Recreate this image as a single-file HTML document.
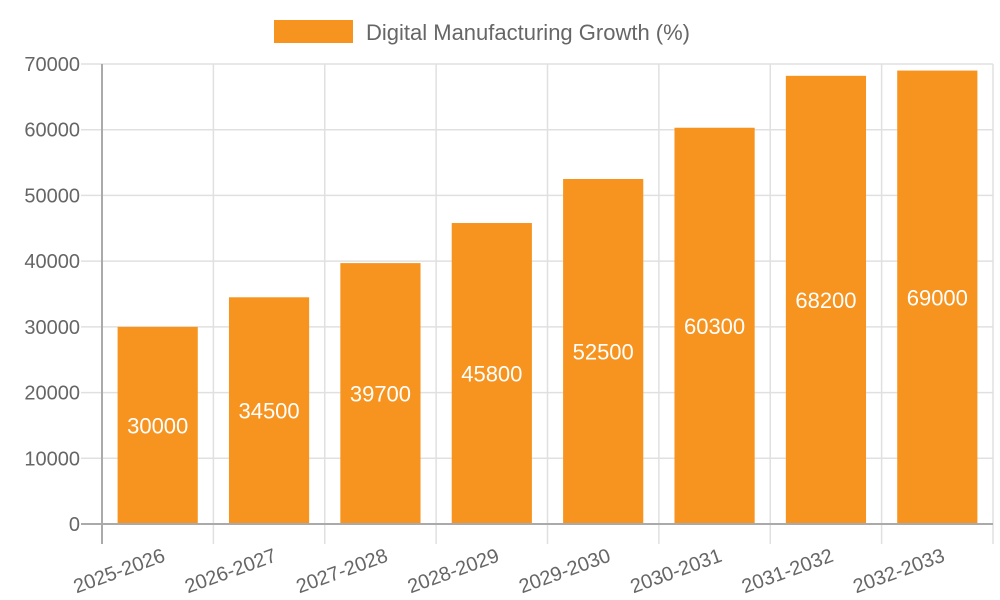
<!DOCTYPE html>
<html><head><meta charset="utf-8"><style>
body{margin:0;background:#fff;}
svg{display:block;font-family:"Liberation Sans",sans-serif;}
</style></head><body>
<svg id="chart" width="1000" height="600">
<g id="grid"></g>
<g id="bars"></g>
<g id="axes"></g>
<g>
<rect x="274" y="20" width="79" height="23" fill="#f7941f"/>
<text x="366" y="40" font-size="22" fill="#666">Digital Manufacturing Growth (%)</text>
</g>
</svg>
<script>
const categories=["2025-2026","2026-2027","2027-2028","2028-2029","2029-2030","2030-2031","2031-2032","2032-2033"];
const values=[30000,34500,39700,45800,52500,60300,68200,69000];
const yTicks=[0,10000,20000,30000,40000,50000,60000,70000];
const L=102,R=993,T=64,B=524,YMAX=70000;
const NS="http://www.w3.org/2000/svg";
const bw=(R-L)/categories.length;
function y(v){return B-(v/YMAX)*(B-T);}
function x(i){return L+bw*i;}
function mk(tag,attrs,parent,txt){const e=document.createElementNS(NS,tag);for(const k in attrs)e.setAttribute(k,attrs[k]);if(txt!==undefined)e.textContent=txt;parent.appendChild(e);return e;}
const grid=document.getElementById('grid'),bars=document.getElementById('bars'),axes=document.getElementById('axes');
yTicks.forEach(t=>{
  const g=mk('line',{x1:81,x2:R,y1:y(t),y2:y(t),stroke:'#e0e0e0','stroke-width':1.5},grid);
  
  
  const lb=mk('text',{x:80,y:y(t)+7,'text-anchor':'end','font-size':20,fill:'#666'},axes,String(t));
  
  
});
for(let i=0;i<=categories.length;i++){
  const g=mk('line',{x1:x(i),x2:x(i),y1:T,y2:544,stroke:'#e0e0e0','stroke-width':1.5},grid);
  
  
}
categories.forEach((c,i)=>{
  const cx=x(i)+bw/2,w=bw*0.72;
  const r=mk('rect',{x:cx-w/2,y:y(values[i]),width:w,height:B-y(values[i]),fill:'#f7941f'},bars);
  
  
  const v=mk('text',{x:cx,y:(y(values[i])+B)/2+8,'text-anchor':'middle','font-size':22,fill:'#fff'},bars,String(values[i]));
  
  
  const xl=mk('text',{x:cx+4,y:548,'text-anchor':'end','font-size':20,fill:'#666',transform:`rotate(-20 ${cx+4} 548)`,'dominant-baseline':'hanging'},axes,c);
  
  
});
const ya=mk('line',{x1:L,x2:L,y1:T,y2:544,stroke:'#aaa','stroke-width':2},axes);


const xa=mk('line',{x1:81,x2:R,y1:B,y2:B,stroke:'#aaa','stroke-width':2},axes);


</script>
</body></html>
